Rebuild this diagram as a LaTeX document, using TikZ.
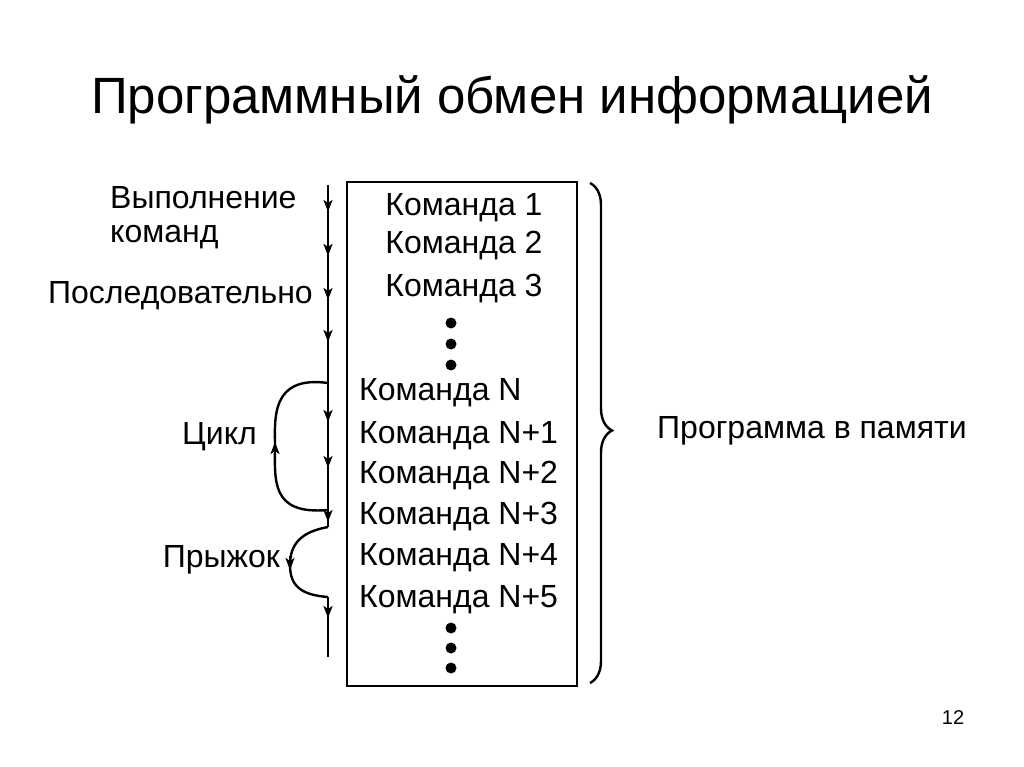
\documentclass[tikz,border=0pt]{standalone}
\usepackage{fontspec}
\setmainfont{Liberation Sans}
\usetikzlibrary{arrows.meta,decorations.pathreplacing}
\begin{document}
\begin{tikzpicture}[x=1pt,y=-1pt,
  lbl/.style={font=\fontsize{32}{36}\selectfont,inner sep=0pt},
  cmd/.style={font=\fontsize{32}{36}\selectfont,inner sep=0pt},
  ln/.style={line width=2.4pt},
  tip/.style={-{Stealth[length=12pt,width=9pt,inset=3pt]},line width=2.4pt},
  dot/.style={circle,fill,inner sep=0pt,minimum size=11pt}]
\useasboundingbox (0,0) rectangle (1024,767);
\node[font=\fontsize{51}{56}\selectfont] (title) at (512,100) {Программный обмен информацией};
\node[draw,line width=2.2pt,minimum width=230pt,minimum height=504pt,inner sep=0pt] (box) at (462,434) {};
\foreach \y/\t in {208/Команда 1,246/Команда 2,289/Команда 3}
  \node[cmd] at (464,\y) {\t};
\foreach \y/\t in {393/Команда N,436/Команда N+1,476/Команда N+2,517/Команда N+3,558/Команда N+4,600/Команда N+5}
  \node[cmd,anchor=west] at (359,\y) {\t};
\foreach \y in {323,344,365,628,648,668} \node[dot] at (451,\y) {};
\draw[line width=2.4pt,decorate,decoration={brace,amplitude=22pt,aspect=0.495}] (590,183) -- (590,683);
\node[lbl,anchor=west] (prog) at (657,431) {Программа в памяти};
\node[lbl,anchor=west] (exe) at (110,198) {Выполнение};
\node[lbl,anchor=west] (exe2) at (110,237) {команд};
\node[lbl,anchor=east] (seq) at (313,296) {Последовательно};
\node[lbl,anchor=east] (loop) at (257,437) {Цикл};
\node[lbl,anchor=east] (jump) at (280,560) {Прыжок};
\coordinate (top) at (328,185);
\coordinate (jA) at (328,527);
\coordinate (jB) at (328,597);
\coordinate (bot) at (328,657);
\draw[ln] (top) -- (jA);
\draw[ln] (jB) -- (bot);
\draw[ln] (jA) .. controls (300,532) and (290,545) .. (290,565) .. controls (290,585) and (300,595) .. (jB);
\draw[ln] (328,383) .. controls (270,375) and (275,420) .. (275,445) .. controls (275,480) and (270,515) .. (328,510);
\foreach \y in {212,256,300,342,422,468,522,618}
  \draw[tip] (328,\y-11) -- (328,\y);
\draw[tip] (275,455) -- (275,442);
\draw[tip] (290,556) -- (290,570);
\node[font=\fontsize{20}{24}\selectfont] (pg) at (953,718) {12};
\end{tikzpicture}
\end{document}
